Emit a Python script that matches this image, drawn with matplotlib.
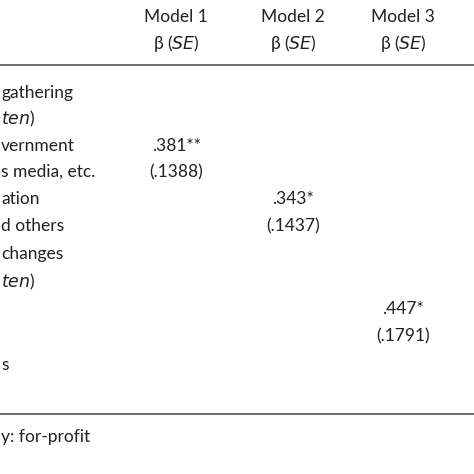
import matplotlib.pyplot as plt

plt.rcParams['font.family'] = ['Lato', 'DejaVu Sans']

models = ["Model 1", "Model 2", "Model 3"]
col_x = [176, 293, 403]
row_labels = ["gathering", "$\\it{ten}$)", "vernment", "s media, etc.", "ation", "d others",
              "changes", "$\\it{ten}$)", "", "", "s"]
row_y = [93, 119, 146, 172, 199, 226, 254, 282, 309, 336, 365]
coefs = [(0, 2, ".381**", "(.1388)"), (1, 4, ".343*", "(.1437)"), (2, 8, ".447*", "(.1791)")]
note = "y: for-profit"

fig = plt.figure(figsize=(4.74, 4.74), dpi=100)
ax = fig.add_axes([0, 0, 1, 1])
ax.set_xlim(0, 474)
ax.set_ylim(474, 0)
ax.axis('off')

fs = 12.5
for x, m in zip(col_x, models):
    ax.text(x, 17, m, ha='center', va='center', fontsize=fs, color='#222')
    ax.text(x, 43, r"β ($\it{SE}$)", ha='center', va='center', fontsize=fs, color='#222')

ax.axhline(65, color='#555', lw=1.2)
ax.axhline(414, color='#555', lw=1.2)

for lab, y in zip(row_labels, row_y):
    ax.text(1, y, lab, ha='left', va='center', fontsize=fs, color='#222')

for c, r, b, se in coefs:
    ax.text(col_x[c], row_y[r], b, ha='center', va='center', fontsize=fs, color='#222')
    ax.text(col_x[c], row_y[r + 1], se, ha='center', va='center', fontsize=fs, color='#222')

ax.text(1, 437, note, ha='left', va='center', fontsize=fs, color='#222')

fig.savefig("out.png", dpi=100, facecolor='white')
